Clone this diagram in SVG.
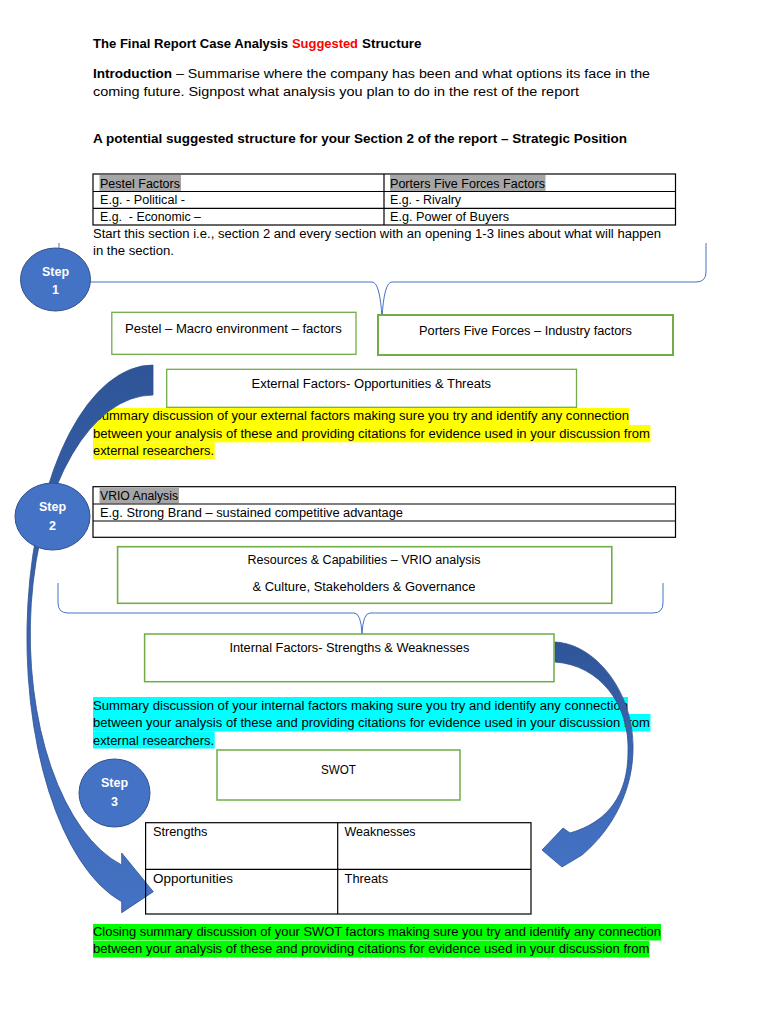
<svg xmlns="http://www.w3.org/2000/svg" width="768" height="1024" viewBox="0 0 768 1024">
<style>
text{font-family:"Liberation Sans",Arial,sans-serif;font-size:12.5px;fill:#000}
.b{font-weight:bold}
.c{text-anchor:middle}
.box{fill:#fff;stroke:#70AD47;stroke-width:1.3}
.tbl{fill:none;stroke:#000;stroke-width:1.2}
.hl-g{fill:#A6A6A6}
.y{fill:#FFFF00}
.cy{fill:#00FFFF}
.gr{fill:#00FF00}
.step{fill:#4472C4;stroke:#2F528F;stroke-width:1}
.st{fill:#fff;font-weight:bold;text-anchor:middle}
.brace{fill:none;stroke:#4472C4;stroke-width:1}
.arrow{stroke:#2F528F;stroke-width:0.8}
</style>
<defs>
<linearGradient id="ag" x1="0" y1="0" x2="0" y2="1">
<stop offset="0" stop-color="#2F5597"/>
<stop offset="0.45" stop-color="#3A64B0"/>
<stop offset="1" stop-color="#4472C4"/>
</linearGradient>
</defs>
<rect width="768" height="1024" fill="#fff"/>

<g id="header">
<text class="b" x="93" y="47.5" textLength="195" lengthAdjust="spacingAndGlyphs">The Final Report Case Analysis</text>
<text class="b" x="292" y="47.5" textLength="66" lengthAdjust="spacingAndGlyphs" style="fill:#FF0000">Suggested</text>
<text class="b" x="362" y="47.5" textLength="59.5" lengthAdjust="spacingAndGlyphs">Structure</text>
<text class="b" x="93" y="77.5" textLength="79" lengthAdjust="spacingAndGlyphs">Introduction</text>
<text x="176" y="77.5" textLength="474" lengthAdjust="spacingAndGlyphs">– Summarise where the company has been and what options its face in the</text>
<text x="93" y="96" textLength="486" lengthAdjust="spacingAndGlyphs">coming future. Signpost what analysis you plan to do in the rest of the report</text>
<text class="b" x="93" y="142.5" textLength="534" lengthAdjust="spacingAndGlyphs">A potential suggested structure for your Section 2 of the report – Strategic Position</text>
</g>

<g id="factors-table">
<rect class="hl-g" x="99.5" y="175" width="81.5" height="16"/>
<rect class="hl-g" x="390" y="175" width="155.5" height="16"/>
<rect class="tbl" x="93" y="174" width="582.5" height="51"/>
<line class="tbl" x1="93" y1="191.5" x2="675.5" y2="191.5"/>
<line class="tbl" x1="93" y1="208.3" x2="675.5" y2="208.3"/>
<line class="tbl" x1="384" y1="174" x2="384" y2="225"/>
<text x="100" y="187.5" textLength="80" lengthAdjust="spacingAndGlyphs">Pestel Factors</text>
<text x="390" y="187.5" textLength="155" lengthAdjust="spacingAndGlyphs">Porters Five Forces Factors</text>
<text x="100" y="204" textLength="85" lengthAdjust="spacingAndGlyphs">E.g. - Political -</text>
<text x="390" y="204" textLength="71" lengthAdjust="spacingAndGlyphs">E.g. - Rivalry</text>
<text x="100" y="221" textLength="101" lengthAdjust="spacingAndGlyphs">E.g.&#160; - Economic –</text>
<text x="390" y="221" textLength="119" lengthAdjust="spacingAndGlyphs">E.g. Power of Buyers</text>
</g>

<g id="section-intro">
<text x="93" y="238" textLength="568" lengthAdjust="spacingAndGlyphs">Start this section i.e., section 2 and every section with an opening 1-3 lines about what will happen</text>
<text x="93" y="255" textLength="81" lengthAdjust="spacingAndGlyphs">in the section.</text>
</g>

<g id="external-summary">
<rect class="y" x="93" y="408" width="536" height="17"/>
<rect class="y" x="93" y="425" width="557.5" height="17.3"/>
<rect class="y" x="93" y="442.3" width="121.7" height="16.7"/>
<text x="93" y="420" textLength="536" lengthAdjust="spacingAndGlyphs">Summary discussion of your external factors making sure you try and identify any connection</text>
<text x="93" y="437.5" textLength="557" lengthAdjust="spacingAndGlyphs">between your analysis of these and providing citations for evidence used in your discussion from</text>
<text x="93" y="455" textLength="121" lengthAdjust="spacingAndGlyphs">external researchers.</text>
</g>

<g id="vrio-table">
<rect class="hl-g" x="99.5" y="488" width="79.5" height="15.5"/>
<rect class="tbl" x="93" y="486.7" width="582.5" height="50.6"/>
<line class="tbl" x1="93" y1="504" x2="675.5" y2="504"/>
<line class="tbl" x1="93" y1="521" x2="675.5" y2="521"/>
<text x="100" y="499.5" textLength="78" lengthAdjust="spacingAndGlyphs">VRIO Analysis</text>
<text x="100" y="516.5" textLength="303" lengthAdjust="spacingAndGlyphs">E.g. Strong Brand – sustained competitive advantage</text>
</g>

<g id="internal-summary">
<rect class="cy" x="93" y="697" width="535" height="17"/>
<rect class="cy" x="93" y="714" width="557.5" height="17.5"/>
<rect class="cy" x="93" y="731.5" width="121.7" height="17"/>
<text x="93" y="709.5" textLength="535" lengthAdjust="spacingAndGlyphs">Summary discussion of your internal factors making sure you try and identify any connection</text>
<text x="93" y="727" textLength="557" lengthAdjust="spacingAndGlyphs">between your analysis of these and providing citations for evidence used in your discussion from</text>
<text x="93" y="744.5" textLength="121" lengthAdjust="spacingAndGlyphs">external researchers.</text>
</g>

<g id="closing-summary">
<rect class="gr" x="93" y="924" width="568" height="16.5"/>
<rect class="gr" x="93" y="941" width="556.5" height="16.5"/>
<text x="93" y="936" textLength="568" lengthAdjust="spacingAndGlyphs">Closing summary discussion of your SWOT factors making sure you try and identify any connection</text>
<text x="93" y="953" textLength="556.5" lengthAdjust="spacingAndGlyphs">between your analysis of these and providing citations for evidence used in your discussion from</text>
</g>

<g id="connectors">
<path class="brace" d="M59,243 L59,272 Q59,282 69,282 L372,282 Q380,282 382,318 Q384,282 392,282 L696,282 Q706,282 706,272 L706,243"/>
<path class="brace" d="M58,583 L58,603 Q58,613 68,613 L354,613 Q361,613 362,634 Q363,613 370,613 L653,613 Q663,613 663,603 L663,583"/>
<path id="arrow-left" class="arrow" fill="url(#ag)" d="M153,365 A126,272.6 0 0,0 121.7,901.7 L121.7,912.7 L153.3,891.7 L121.7,853 L121.7,865 A123,239 0 0,1 153,395 Z"/>
<path id="arrow-right" class="arrow" fill="url(#ag)" d="M555,642 C595,644 632,690 633,745 C634,790 612,830 582,855 L562,867 L542,850 L563,828 L570,833 C608,822 628,795 628,752 C630,705 600,665 555,662 Z"/>
</g>

<g id="pestel-box">
<rect class="box" x="111.8" y="312.3" width="244.2" height="42"/>
<text x="125" y="332.5" textLength="216.7" lengthAdjust="spacingAndGlyphs">Pestel – Macro environment – factors</text>
</g>
<g id="porters-box">
<rect class="box" x="378" y="315" width="295" height="40" style="stroke-width:2"/>
<text x="419" y="334.5" textLength="213" lengthAdjust="spacingAndGlyphs">Porters Five Forces – Industry factors</text>
</g>
<g id="external-box">
<rect class="box" x="166.7" y="369.3" width="409.8" height="38"/>
<text x="251.5" y="387.5" textLength="239.5" lengthAdjust="spacingAndGlyphs">External Factors- Opportunities &amp; Threats</text>
</g>
<g id="resources-box">
<rect class="box" x="117.6" y="546.7" width="494.2" height="56.6" style="stroke-width:1.6"/>
<text x="247.5" y="563.5" textLength="233" lengthAdjust="spacingAndGlyphs">Resources &amp; Capabilities – VRIO analysis</text>
<text x="252.5" y="591" textLength="223" lengthAdjust="spacingAndGlyphs">&amp; Culture, Stakeholders &amp; Governance</text>
</g>
<g id="internal-box">
<rect class="box" x="144.6" y="634" width="409.4" height="47.7" style="stroke-width:1.5"/>
<text x="229.4" y="651.5" textLength="240" lengthAdjust="spacingAndGlyphs">Internal Factors- Strengths &amp; Weaknesses</text>
</g>
<g id="swot-box">
<rect class="box" x="217" y="750" width="243" height="50" style="stroke-width:1.5"/>
<text x="321" y="773.5" textLength="35" lengthAdjust="spacingAndGlyphs">SWOT</text>
</g>

<g id="swot-table">
<rect class="tbl" x="145.6" y="822.7" width="385.4" height="91.3"/>
<line class="tbl" x1="145.6" y1="869.3" x2="531" y2="869.3"/>
<line class="tbl" x1="337.7" y1="822.7" x2="337.7" y2="914"/>
<text x="153" y="836" textLength="54.5" lengthAdjust="spacingAndGlyphs">Strengths</text>
<text x="344.6" y="836" textLength="71" lengthAdjust="spacingAndGlyphs">Weaknesses</text>
<text x="153" y="882.5" textLength="80" lengthAdjust="spacingAndGlyphs">Opportunities</text>
<text x="344.6" y="882.5" textLength="43.5" lengthAdjust="spacingAndGlyphs">Threats</text>
</g>

<g id="step1">
<ellipse class="step" cx="55.5" cy="279.5" rx="35" ry="31.5"/>
<text class="st" x="55.5" y="276">Step</text>
<text class="st" x="55.5" y="294">1</text>
</g>
<g id="step2">
<ellipse class="step" cx="52.5" cy="516.5" rx="37.5" ry="33.5"/>
<text class="st" x="52.5" y="511">Step</text>
<text class="st" x="52.5" y="529.5">2</text>
</g>
<g id="step3">
<ellipse class="step" cx="114.5" cy="793" rx="35.5" ry="34"/>
<text class="st" x="114.5" y="787">Step</text>
<text class="st" x="114.5" y="805.5">3</text>
</g>
</svg>
